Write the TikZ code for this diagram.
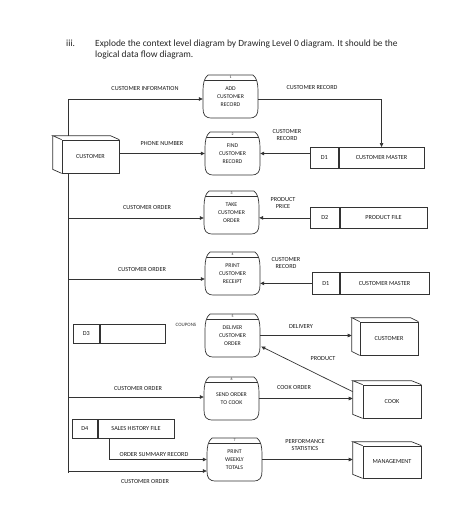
\documentclass[tikz,border=0pt]{standalone}
\usepackage{fontspec}
\setmainfont{Carlito}
\usetikzlibrary{arrows.meta,calc}
\tikzset{
  ln/.style={line width=0.7pt, draw=black!80},
  arr/.style={ln, -{Triangle[length=4pt,width=3.6pt]}},
  lbl/.style={font=\fontsize{6.2}{7}\selectfont, inner sep=0, align=center, text=black!90},
  small/.style={font=\fontsize{5}{6}\selectfont, inner sep=0, text=black!80},
  ptxt/.style={font=\fontsize{5.8}{8}\selectfont, inner sep=0, align=center, text=black!90},
  pnum/.style={font=\fontsize{3.8}{4}\selectfont, inner sep=0, text=black!90},
  ent/.style={ln, draw, inner sep=0, font=\fontsize{6.2}{7}\selectfont, text=black!90},
  store/.style={ln, draw, inner sep=0, anchor=north west, font=\fontsize{6.2}{7}\selectfont, text=black!90},
  ttl/.style={font=\fontsize{9.45}{11}\selectfont, inner sep=0, anchor=base west, text=black!85},
  pics/proc/.style n args={2}{code={
    \draw[ln] (5,0) -- (50,0) .. controls (54,3) and (55,9) .. (55,16) -- (55,33)
      .. controls (55,40) and (53,43) .. (46,43) -- (9,43)
      .. controls (2,43) and (0,40) .. (0,33) -- (0,16)
      .. controls (0,9) and (1,3) .. (5,0) -- cycle;
    \draw[ln] (1.5,5) -- (53.5,5);
    \node[inner sep=0, minimum width=55pt, minimum height=43pt] (-box) at (27.5,21.5) {};
    \node[pnum] (-num) at (27.5,2.6) {#1};
    \node[ptxt] (-txt) at (27.5,21.5) {#2};
  }}
}
\newcommand\depthbox[3]{%
  \draw[ln] (#1.north west) -- ++(-#2,-#3) coordinate (#1-bl) -- ($(#1.north east)+(-#2,-#3)$) -- (#1.north east);
  \draw[ln] (#1-bl) -- ($(#1.south west)+(-#2,-#3)$) -- (#1.south west);
}
\begin{document}
\begin{tikzpicture}[x=1pt,y=-1pt]
\useasboundingbox[fill=white] (0,0) rectangle (474,506);

% title
\node[ttl] (tn) at (66,46) {iii.};
\node[ttl] (t1) at (95,46) {Explode the context level diagram by Drawing Level 0 diagram. It should be the};
\node[ttl] (t2) at (95,57.5) {logical data flow diagram.};

% processes
\pic (p1) at (203,75) {proc={1}{ADD\\CUSTOMER\\RECORD}};
\pic (p2) at (205,132) {proc={2}{FIND\\CUSTOMER\\RECORD}};
\pic (p3) at (204,191) {proc={3}{TAKE\\CUSTOMER\\ORDER}};
\pic (p4) at (205,252) {proc={4}{PRINT\\CUSTOMER\\RECEIPT}};
\pic (p5) at (205,314) {proc={5}{DELIVER\\CUSTOMER\\ORDER}};
\pic (p6) at (204,377) {proc={6}{SEND ORDER\\TO COOK}};
\pic (p7) at (207,438) {proc={7}{PRINT\\WEEKLY\\TOTALS}};

% external entities
\node[ent, minimum width=57pt, minimum height=33pt] (cust1) at (90.5,156.5) {CUSTOMER};
\depthbox{cust1}{9}{4}
\node[ent, minimum width=58pt, minimum height=33pt] (cust2) at (389,338.5) {CUSTOMER};
\depthbox{cust2}{8}{4}
\node[ent, minimum width=58pt, minimum height=33pt] (cook) at (392,401.5) {COOK};
\depthbox{cook}{10}{4}
\node[ent, minimum width=58pt, minimum height=32pt] (mgmt) at (392,462) {MANAGEMENT};
\depthbox{mgmt}{10}{4}

% data stores
\node[store, minimum width=28pt, minimum height=21pt] (d1a) at (310,147) {D1};
\node[store, minimum width=85pt, minimum height=21pt] (d1n) at (d1a.north east) {CUSTOMER MASTER};
\node[store, minimum width=29pt, minimum height=21pt] (d2a) at (310,207) {D2};
\node[store, minimum width=87pt, minimum height=21pt] (d2n) at (d2a.north east) {PRODUCT FILE};
\node[store, minimum width=27pt, minimum height=22pt] (d1ba) at (312,272) {D1};
\node[store, minimum width=89pt, minimum height=22pt] (d1bn) at (d1ba.north east) {CUSTOMER MASTER};
\node[store, minimum width=26pt, minimum height=19pt] (d3a) at (73,324) {D3};
\node[store, minimum width=65pt, minimum height=19pt] (d3n) at (d3a.north east) {};
\node[store, minimum width=25pt, minimum height=19pt] (d4a) at (72,419) {D4};
\node[store, minimum width=76pt, minimum height=19pt] (d4n) at (d4a.north east) {SALES HISTORY FILE};

% left trunk
\coordinate (lt) at (68,99);
\coordinate (lb) at (68,473);
\coordinate (l3) at (68,218);
\coordinate (l4) at (68,279);
\coordinate (l6) at (68,397);
\coordinate (l7) at (68,471);
\draw[ln] (lt) -- (lt |- cust1-bl);
\draw[ln] (lt |- cust1.south) -- (lb);

% flow labels
\node[lbl] (f1) at (145,89) {CUSTOMER INFORMATION};
\node[lbl] (f2) at (312,88) {CUSTOMER RECORD};
\node[lbl] (f3) at (162,144) {PHONE NUMBER};
\node[lbl] (f4) at (287,135.5) {CUSTOMER\\RECORD};
\node[lbl] (f5) at (147,208) {CUSTOMER ORDER};
\node[lbl] (f6) at (283,203) {PRODUCT\\PRICE};
\node[lbl] (f7) at (142,270) {CUSTOMER ORDER};
\node[lbl] (f8) at (286,263) {CUSTOMER\\RECORD};
\node[small] (f9) at (186,325) {COUPONS};
\node[lbl] (f10) at (301,327) {DELIVERY};
\node[lbl] (f11) at (323,359) {PRODUCT};
\node[lbl] (f12) at (138,389) {CUSTOMER ORDER};
\node[lbl] (f13) at (294,388) {COOK ORDER};
\node[lbl] (f14) at (154,455) {ORDER SUMMARY RECORD};
\node[lbl] (f15) at (305,445) {PERFORMANCE\\STATISTICS};
\node[lbl] (f16) at (145,482) {CUSTOMER ORDER};

% flows
\draw[arr] (lt) -- (lt -| p1-box.west);
\draw[arr] (lt -| p1-box.east) -| (d1n.north);
\draw[arr] (p2-box.west -| cust1.east) -- (p2-box.west);
\draw[arr] (p2-box.east -| d1a.west) -- (p2-box.east);
\draw[arr] (l3) -- (l3 -| p3-box.west);
\draw[arr] (d2a.west) -- (d2a.west -| p3-box.east);
\draw[arr] (l4) -- (l4 -| p4-box.west);
\draw[arr] (d1ba.west) -- (d1ba.west -| p4-box.east);
\draw[arr] (p5-box.east) -- (p5-box.east -| cust2-bl);
\draw[arr] ($(cook.north west)+(-10,7)$) -- ($(p5-box.east)+(1,11)$);
\draw[arr] (l6) -- (l6 -| p6-box.west);
\draw[arr] (p6-box.east) -- (p6-box.east -| cook-bl);
\draw[arr] ($(d4n.south west)+(12,0)$) |- (p7-box.west);
\draw[arr] (l7) -- (l7 -| p7-box.west);
\draw[arr] (p7-box.east) -- (p7-box.east -| mgmt-bl);
\end{tikzpicture}
\end{document}
